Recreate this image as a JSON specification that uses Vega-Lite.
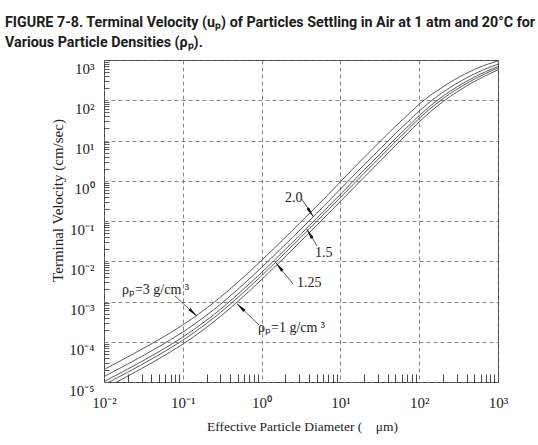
{
  "$schema": "https://vega.github.io/schema/vega-lite/v6.json",
  "width": 394,
  "height": 322,
  "autosize": "none",
  "padding": {"left": 104, "top": 60, "right": 40, "bottom": 63},
  "background": "white",
  "config": {
    "view": {"stroke": "#3a3a3a", "strokeWidth": 1},
    "text": {"font": "Liberation Serif"}
  },
  "title": {
    "text": ["FIGURE 7-8. Terminal Velocity (uₚ) of Particles Settling in Air at 1 atm and 20°C for", "Various Particle Densities (ρₚ)."],
    "anchor": "start",
    "frame": "group",
    "dx": -99,
    "dy": 16,
    "offset": 12,
    "font": "Roboto",
    "fontSize": 14.3,
    "fontWeight": "bold",
    "color": "#1c1c1c",
    "lineHeight": 20,
    "baseline": "bottom"
  },
  "datasets": {
    "curves": [
      {"d": 0.01, "r1": 6.8e-6, "r125": 8.5e-6, "r15": 1.02e-5, "r2": 1.36e-5, "r3": 2.04e-5},
      {"d": 0.02, "r1": 1.398e-5, "r125": 1.748e-5, "r15": 2.097e-5, "r2": 2.796e-5, "r3": 4.194e-5},
      {"d": 0.03, "r1": 2.157e-5, "r125": 2.696e-5, "r15": 3.236e-5, "r2": 4.314e-5, "r3": 6.471e-5},
      {"d": 0.05, "r1": 3.8e-5, "r125": 4.75e-5, "r15": 5.7e-5, "r2": 7.6e-5, "r3": 1.14e-4},
      {"d": 0.07, "r1": 5.62e-5, "r125": 7.03e-5, "r15": 8.43e-5, "r2": 1.124e-4, "r3": 1.686e-4},
      {"d": 0.1, "r1": 8.73e-5, "r125": 1.091e-4, "r15": 1.31e-4, "r2": 1.746e-4, "r3": 2.619e-4},
      {"d": 0.2, "r1": 2.273e-4, "r125": 2.841e-4, "r15": 3.41e-4, "r2": 4.546e-4, "r3": 6.819e-4},
      {"d": 0.3, "r1": 4.26e-4, "r125": 5.33e-4, "r15": 6.39e-4, "r2": 8.52e-4, "r3": 1.278e-3},
      {"d": 0.5, "r1": 1.006e-3, "r125": 1.258e-3, "r15": 1.509e-3, "r2": 2.012e-3, "r3": 3.018e-3},
      {"d": 0.7, "r1": 1.828e-3, "r125": 2.285e-3, "r15": 2.742e-3, "r2": 3.656e-3, "r3": 5.484e-3},
      {"d": 1, "r1": 3.514e-3, "r125": 4.393e-3, "r15": 5.271e-3, "r2": 7.028e-3, "r3": 1.054e-2},
      {"d": 2, "r1": 1.306e-2, "r125": 1.633e-2, "r15": 1.959e-2, "r2": 2.612e-2, "r3": 3.918e-2},
      {"d": 3, "r1": 2.862e-2, "r125": 3.578e-2, "r15": 4.293e-2, "r2": 5.724e-2, "r3": 8.586e-2},
      {"d": 5, "r1": 7.776e-2, "r125": 9.72e-2, "r15": 0.1166, "r2": 0.1555, "r3": 0.2333},
      {"d": 7, "r1": 0.1511, "r125": 0.1889, "r15": 0.2267, "r2": 0.3022, "r3": 0.4533},
      {"d": 10, "r1": 0.306, "r125": 0.383, "r15": 0.459, "r2": 0.62, "r3": 0.94},
      {"d": 20, "r1": 1.22, "r125": 1.537, "r15": 1.855, "r2": 2.499, "r3": 3.8},
      {"d": 30, "r1": 2.72, "r125": 3.41, "r15": 4.11, "r2": 5.5, "r3": 8.4},
      {"d": 50, "r1": 7.5, "r125": 9.35, "r15": 11.2, "r2": 14.9, "r3": 22.5},
      {"d": 70, "r1": 14.4, "r125": 17.8, "r15": 21.2, "r2": 28, "r3": 41.5},
      {"d": 100, "r1": 29, "r125": 35.3, "r15": 41.6, "r2": 54, "r3": 80},
      {"d": 200, "r1": 92, "r125": 109.5, "r15": 126.3, "r2": 158, "r3": 215},
      {"d": 300, "r1": 160, "r125": 187.8, "r15": 213.9, "r2": 263, "r3": 350},
      {"d": 500, "r1": 290, "r125": 333.5, "r15": 374.5, "r2": 449, "r3": 580},
      {"d": 700, "r1": 410, "r125": 465, "r15": 515, "r2": 605, "r3": 760},
      {"d": 1000, "r1": 570, "r125": 632, "r15": 687, "r2": 785, "r3": 945}
    ],
    "leaders": [
      {"label": "2.0", "d": 3.23, "v": 0.352, "d2": 4.53, "v2": 0.128},
      {"label": "1.5", "d": 5.05, "v": 0.0239, "d2": 3.77, "v2": 0.062},
      {"label": "1.25", "d": 2.5, "v": 0.00272, "d2": 1.52, "v2": 0.0092},
      {"label": "rho3", "d": 0.0796, "v": 0.00137, "d2": 0.151, "v2": 0.00043},
      {"label": "rho1", "d": 0.927, "v": 0.000261, "d2": 0.488, "v2": 0.00088}
    ],
    "heads": [
      {"label": "2.0", "d": 4.19, "v": 0.1626, "dir": 147},
      {"label": "1.5", "d": 4.06, "v": 0.0484, "dir": 329},
      {"label": "1.25", "d": 1.663, "v": 0.00736, "dir": 321},
      {"label": "rho3", "d": 0.1355, "v": 0.000524, "dir": 133},
      {"label": "rho1", "d": 0.5416, "v": 0.000721, "dir": 314}
    ],
    "labels": [
      {"text": "2.0", "d": 1.98, "v": 0.296},
      {"text": "1.5", "d": 4.76, "v": 0.01276},
      {"text": "1.25", "d": 2.81, "v": 0.00229},
      {"text": "ρₚ=3 g/cm ³", "d": 0.0169, "v": 0.001535},
      {"text": "ρₚ=1 g/cm ³", "d": 0.9, "v": 0.0001746}
    ]
  },
  "layer": [
    {
      "data": {"name": "curves"},
      "transform": [{"fold": ["r1", "r125", "r15", "r2", "r3"], "as": ["rho", "v"]}],
      "mark": {"type": "line", "clip": true, "interpolate": "monotone", "color": "#4a4a4a", "strokeWidth": 0.9},
      "encoding": {
        "x": {
          "field": "d", "type": "quantitative",
          "scale": {"type": "log", "domain": [0.01, 1000], "nice": false},
          "axis": {
            "values": [0.01, 0.1, 1, 10, 100, 1000],
            "labelExpr": "'10' + replace(replace(replace(replace(replace(replace(replace(toString(round(log(datum.value)/LN10)),'-','⁻'),'0','⁰'),'1','¹'),'2','²'),'3','³'),'4','⁴'),'5','⁵')",
            "grid": true, "gridDash": [4, 3], "gridColor": "#6a6a6a", "gridWidth": 0.8,
            "ticks": false, "domain": false,
            "labelFont": "Liberation Serif", "labelFontSize": 15, "labelColor": "#222",
            "labelPadding": 25, "labelBaseline": "alphabetic", "labelFlush": false, "labelOverlap": false, "labelBound": false,
            "title": "Effective Particle Diameter (\u00a0\u00a0\u00a0\u00a0μm)",
            "titleFont": "Liberation Serif", "titleFontSize": 13.5, "titleFontWeight": "normal", "titleColor": "#222",
            "titleX": 198, "titleY": 48, "titleBaseline": "alphabetic", "titleAlign": "center"
          }
        },
        "y": {
          "field": "v", "type": "quantitative",
          "scale": {"type": "log", "domain": [0.00001, 1000], "nice": false},
          "axis": {
            "values": [0.00001, 0.0001, 0.001, 0.01, 0.1, 1, 10, 100, 1000],
            "labelExpr": "'10' + replace(replace(replace(replace(replace(replace(replace(toString(round(log(datum.value)/LN10)),'-','⁻'),'0','⁰'),'1','¹'),'2','²'),'3','³'),'4','⁴'),'5','⁵')",
            "grid": true, "gridDash": [4, 3], "gridColor": "#6a6a6a", "gridWidth": 0.8,
            "ticks": false, "domain": false,
            "labelFont": "Liberation Serif", "labelFontSize": 15, "labelColor": "#222",
            "labelPadding": 10, "labelBaseline": "middle", "labelOffset": 8, "labelFlush": false, "labelOverlap": false, "labelBound": false,
            "title": "Terminal Velocity (cm/sec)",
            "titleFont": "Liberation Serif", "titleFontSize": 15, "titleFontWeight": "normal", "titleColor": "#222",
            "titleX": -47, "titleY": 140, "titleAngle": 270, "titleAlign": "center", "titleBaseline": "middle"
          }
        },
        "detail": {"field": "rho"}
      }
    },
    {
      "data": {"name": "labels"},
      "mark": {"type": "point", "opacity": 0},
      "encoding": {
        "x": {
          "field": "d", "type": "quantitative",
          "scale": {"type": "log", "domain": [0.01, 1000], "nice": false},
          "axis": {
            "orient": "bottom",
            "values": [0.02, 0.03, 0.04, 0.05, 0.06, 0.07, 0.08, 0.09, 0.2, 0.3, 0.4, 0.5, 0.6, 0.7, 0.8, 0.9, 2, 3, 4, 5, 6, 7, 8, 9, 20, 30, 40, 50, 60, 70, 80, 90, 200, 300, 400, 500, 600, 700, 800, 900],
            "labels": false, "grid": false, "domain": false, "title": null,
            "ticks": true, "tickSize": -8, "tickColor": "#333", "tickWidth": 0.9
          }
        },
        "y": {
          "field": "v", "type": "quantitative",
          "scale": {"type": "log", "domain": [0.00001, 1000], "nice": false},
          "axis": {
            "orient": "left",
            "values": [0.00002, 0.00003, 0.00004, 0.00005, 0.00006, 0.00007, 0.00008, 0.00009, 0.0002, 0.0003, 0.0004, 0.0005, 0.0006, 0.0007, 0.0008, 0.0009, 0.002, 0.003, 0.004, 0.005, 0.006, 0.007, 0.008, 0.009, 0.02, 0.03, 0.04, 0.05, 0.06, 0.07, 0.08, 0.09, 0.2, 0.3, 0.4, 0.5, 0.6, 0.7, 0.8, 0.9, 2, 3, 4, 5, 6, 7, 8, 9, 20, 30, 40, 50, 60, 70, 80, 90, 200, 300, 400, 500, 600, 700, 800, 900],
            "labels": false, "grid": false, "domain": false, "title": null,
            "ticks": true, "tickSize": -5, "tickColor": "#333", "tickWidth": 0.8
          }
        }
      }
    },
    {
      "data": {"name": "leaders"},
      "mark": {"type": "rule", "color": "#333", "strokeWidth": 0.8},
      "encoding": {
        "x": {"field": "d", "type": "quantitative", "axis": null},
        "y": {"field": "v", "type": "quantitative", "axis": null},
        "x2": {"field": "d2"},
        "y2": {"field": "v2"}
      }
    },
    {
      "data": {"name": "heads"},
      "mark": {"type": "point", "shape": "M0,-1L0.3,1L-0.3,1Z", "filled": true, "color": "#111", "opacity": 1, "size": 110},
      "encoding": {
        "x": {"field": "d", "type": "quantitative", "axis": null},
        "y": {"field": "v", "type": "quantitative", "axis": null},
        "angle": {"field": "dir", "type": "quantitative", "scale": null}
      }
    },
    {
      "data": {"name": "labels"},
      "mark": {"type": "text", "align": "left", "baseline": "alphabetic", "font": "Liberation Serif", "fontSize": 14, "color": "#222"},
      "encoding": {
        "x": {"field": "d", "type": "quantitative", "axis": null},
        "y": {"field": "v", "type": "quantitative", "axis": null},
        "text": {"field": "text"}
      }
    }
  ],
  "resolve": {"axis": {"x": "independent", "y": "independent"}}
}
